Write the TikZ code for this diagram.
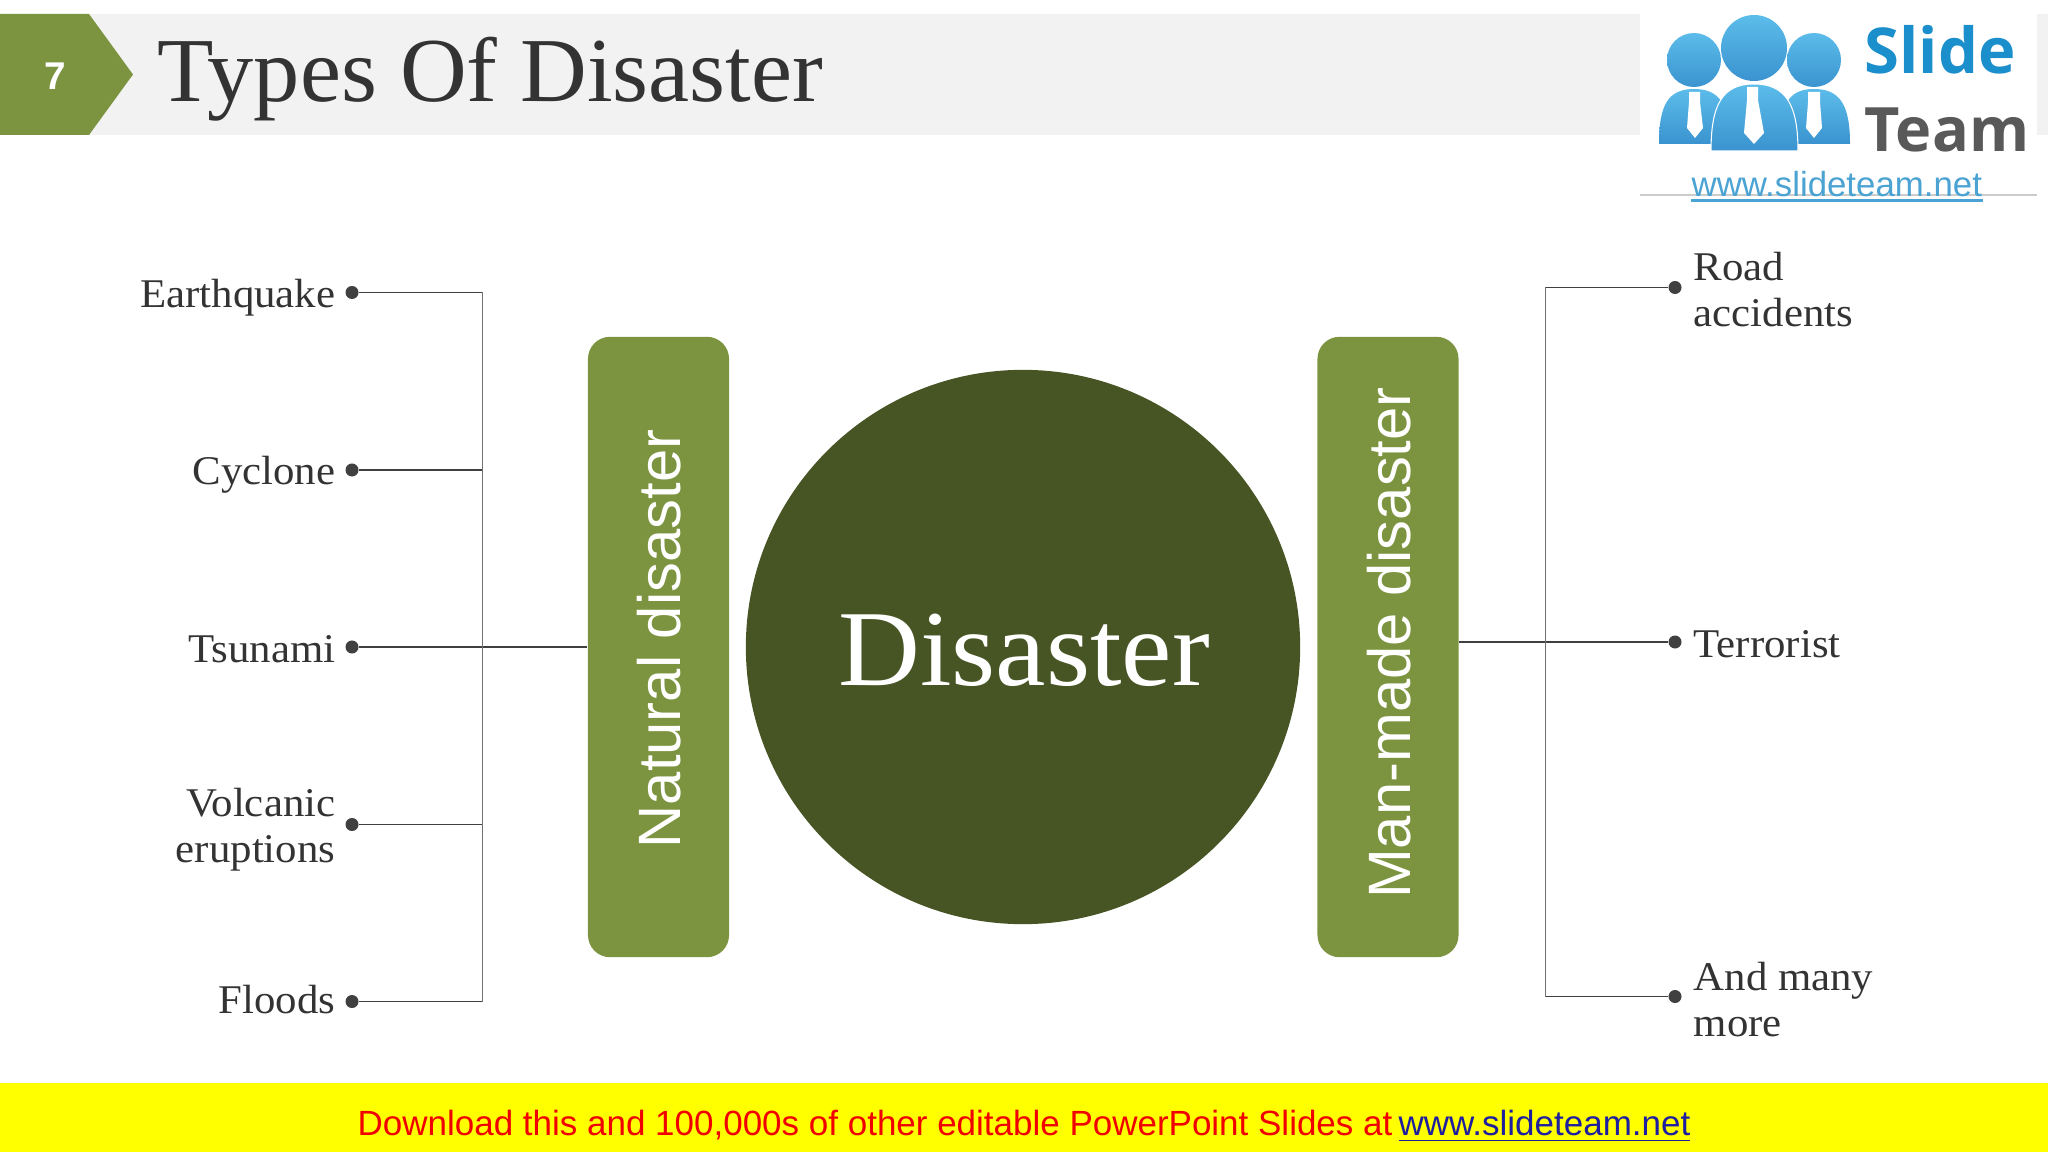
\documentclass[tikz,border=0pt]{standalone}
\usepackage{fontspec}
\setmainfont{Liberation Sans}
\newfontfamily\titlefont[FakeStretch=1.01]{Liberation Serif}
\newfontfamily\labelfont[FakeStretch=1.05]{Liberation Serif}
\newfontfamily\logofont{Open Sans}
\definecolor{leaf}{HTML}{7C9440}
\definecolor{moss}{HTML}{475524}
\definecolor{ink}{HTML}{333333}
\definecolor{wire}{HTML}{404040}
\definecolor{skyA}{HTML}{5CBCEA}
\definecolor{skyB}{HTML}{3A93CF}
\definecolor{slideblue}{HTML}{1A8FCC}
\definecolor{urlblue}{HTML}{4BA3D3}
\definecolor{flash}{RGB}{255,255,0}
\definecolor{alarm}{RGB}{240,0,0}
\definecolor{linkblue}{RGB}{30,30,160}
\tikzset{
	dot/.style={circle, fill=wire, inner sep=0, minimum size=0.13cm},
	leftlabel/.style={anchor=east, inner sep=0, align=right, text=ink, font=\fontsize{11.6}{13.1}\selectfont\labelfont},
	rightlabel/.style={anchor=west, inner sep=0, align=left, text=ink, font=\fontsize{11.6}{13.1}\selectfont\labelfont},
	barbox/.style={fill=leaf, rounded corners=0.22cm, minimum width=1.41cm, minimum height=6.2cm, inner sep=0},
	bartext/.style={rotate=90, inner sep=0, text=white, font=\fontsize{17}{20}\selectfont},
	wireline/.style={color=wire, line width=0.4pt},
	busline/.style={color=wire!75, line width=0.25pt},
	skyfill/.style={top color=skyA, bottom color=skyB, draw=none}
}

\begin{document}
\begin{tikzpicture}[x=0.01cm, y=-0.01cm]
	%%%%% START %%%%%
	\useasboundingbox (0, 0) rectangle (2048, 1152);
	\fill[white] (0, 0) rectangle (2048, 1152);

	\fill[black!5] (0, 14) rectangle (2048, 135);
	\fill[leaf] (0, 14) -- (89, 14) -- (133, 74.5) -- (89, 135) -- (0, 135) -- cycle;
	\node[inner sep=0, text=white, font=\fontsize{11}{13}\selectfont\bfseries] (pagenum) at (55, 76) {7};
	\node[anchor=base west, inner sep=0, text=ink, font=\fontsize{26}{30}\selectfont\titlefont] (title) at (157, 102) {Types Of Disaster};

	% logo
	\fill[white] (1640, 0) rectangle (2037, 195);
	\draw[black!20, line width=0.3pt] (1640, 195) -- (2037, 195);
	\shade[skyfill] (1694, 60) circle (27);
	\shade[skyfill] (1814, 60) circle (27);
	\shade[skyfill] (1659, 144) .. controls (1659, 105) and (1668, 89) .. (1694, 89) .. controls (1720, 89) and (1730, 105) .. (1730, 144) -- cycle;
	\shade[skyfill] (1780, 144) .. controls (1780, 105) and (1788, 89) .. (1814, 89) .. controls (1840, 89) and (1850, 105) .. (1850, 144) -- cycle;
	\fill[white] (1689, 92) -- (1700, 92) -- (1700, 102) -- (1703, 128) -- (1695, 138) -- (1687, 128) -- (1689, 102) -- cycle;
	\fill[white] (1808, 92) -- (1820, 92) -- (1820, 102) -- (1822, 128) -- (1814, 138) -- (1806, 128) -- (1808, 102) -- cycle;
	\shade[skyfill] (1754, 48) circle (33);
	\draw[white, line width=0.3pt, top color=skyA, bottom color=skyB] (1711, 151) .. controls (1711, 105) and (1722, 84) .. (1754, 84) .. controls (1786, 84) and (1798, 105) .. (1798, 151) -- cycle;
	\fill[white] (1747, 87) -- (1758, 87) -- (1758, 100) -- (1764, 133) -- (1754, 144) -- (1744, 133) -- (1747, 100) -- cycle;
	\node[anchor=base west, inner sep=0, text=slideblue, font=\fontsize{18}{20}\selectfont\logofont\bfseries] (slide) at (1864, 74) {Slide};
	\node[anchor=base west, inner sep=0, text=black!65, font=\fontsize{17.4}{20}\selectfont\logofont\bfseries] (team) at (1864, 152) {Team};
	\node[anchor=base west, inner sep=0, text=urlblue, font=\fontsize{9.9}{12}\selectfont] (logourl) at (1691, 196.5) {www.slideteam.net};
	\draw[urlblue, line width=0.6pt] ([yshift=-0.04cm]logourl.base west) -- ([yshift=-0.04cm]logourl.base east);

	% centre
	\node[circle, fill=moss, minimum size=5.54cm, inner sep=0] (disaster) at (1023, 647) {};
	\node[inner sep=0, text=white, font=\fontsize{30.7}{36}\selectfont\labelfont] (disastertext) at (1024, 650) {Disaster};

	\node[barbox] (naturalbar) at (658.5, 647) {};
	\node[bartext] (naturaltext) at (659, 639) {Natural disaster};
	\node[barbox] (manbar) at (1388, 647) {};
	\node[bartext] (mantext) at (1389, 643) {Man-made disaster};

	% left side
	\node[dot] (quakedot) at (352, 292.5) {};
	\node[dot] (cyclonedot) at (352, 470) {};
	\node[dot] (tsunamidot) at (352, 647) {};
	\node[dot] (volcanodot) at (352, 824.5) {};
	\node[dot] (flooddot) at (352, 1001.5) {};
	\node[leftlabel] (quake) at (336, 298) {Earthquake};
	\node[leftlabel] (cyclone) at (336, 475) {Cyclone};
	\node[leftlabel] (tsunami) at (336, 649) {Tsunami};
	\node[leftlabel] (volcano) at (336, 830) {Volcanic\\eruptions};
	\node[leftlabel] (flood) at (336, 1000) {Floods};
	\coordinate (lefttop) at (482, 292.5);
	\coordinate (leftcyclone) at (482, 470);
	\coordinate (leftvolcano) at (482, 824.5);
	\coordinate (leftbottom) at (482, 1001.5);
	\draw[wireline] (quakedot) -- (lefttop);
	\draw[wireline] (cyclonedot) -- (leftcyclone);
	\draw[wireline] (tsunamidot) -- (naturalbar);
	\draw[wireline] (volcanodot) -- (leftvolcano);
	\draw[wireline] (flooddot) -- (leftbottom);
	\draw[busline] (lefttop) -- (leftbottom);

	% right side
	\node[dot] (roaddot) at (1675, 287.5) {};
	\node[dot] (terrordot) at (1675, 642) {};
	\node[dot] (manydot) at (1675, 996.5) {};
	\node[rightlabel] (road) at (1693, 290) {Road\\accidents};
	\node[rightlabel] (terror) at (1693, 644) {Terrorist};
	\node[rightlabel] (many) at (1693, 1000) {And many\\more};
	\coordinate (righttop) at (1545, 287.5);
	\coordinate (rightbottom) at (1545, 996.5);
	\draw[wireline] (roaddot) -- (righttop);
	\draw[wireline] (manbar.east |- terrordot) -- (terrordot);
	\draw[wireline] (manydot) -- (rightbottom);
	\draw[busline] (righttop) -- (rightbottom);

	% footer
	\fill[flash] (0, 1083) rectangle (2048, 1152);
	\node[anchor=base west, inner sep=0, text=alarm, font=\fontsize{9.95}{12}\selectfont] (download) at (357, 1135) {Download this and 100,000s of other editable PowerPoint Slides at};
	\node[anchor=base east, inner sep=0, text=linkblue, font=\fontsize{9.95}{12}\selectfont] (footurl) at (1691, 1135) {\underline{www.slideteam.net}};
	%%%%% END %%%%%
\end{tikzpicture}
\end{document}
